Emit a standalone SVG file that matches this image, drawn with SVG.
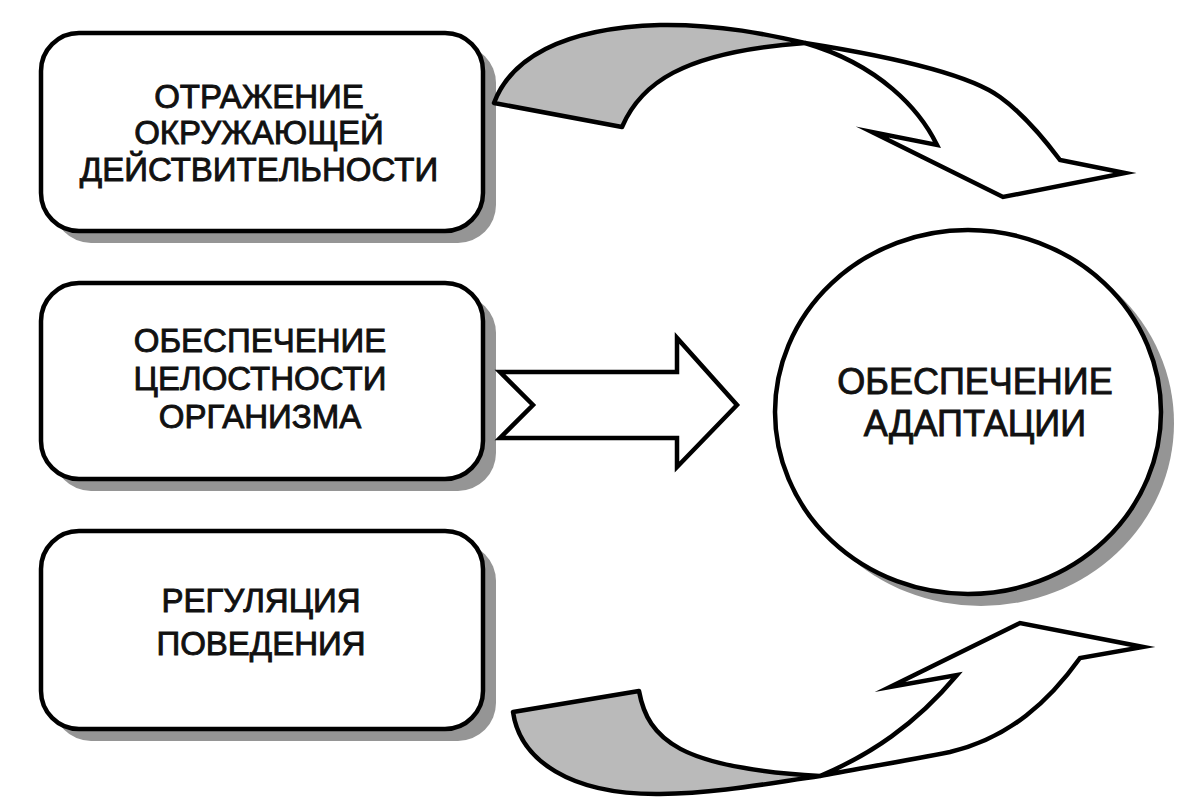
<svg xmlns="http://www.w3.org/2000/svg" width="1200" height="811" viewBox="0 0 1200 811">
<style>
.bg{fill:#ffffff}
.box{fill:#ffffff;stroke:#000;stroke-width:4.5}
.shadow{fill:#959595;stroke:none}
.lbl{font-family:"Liberation Sans",Arial,sans-serif;font-size:33px;fill:#111;stroke:#111;stroke-width:0.9;text-anchor:middle}
.shade{fill:#bababa;stroke:#000;stroke-width:4.5;stroke-linejoin:round}
.white{fill:#ffffff;stroke:#000;stroke-width:4.5;stroke-linejoin:miter;stroke-miterlimit:10}
</style>
<rect class="bg" x="0" y="0" width="1200" height="811"/>
<g id="node-reflection">
<rect class="shadow" x="53" y="45" width="443" height="198" rx="38"/>
<rect class="box" x="41" y="33" width="442" height="198" rx="38"/>
<text class="lbl" x="259" y="108">ОТРАЖЕНИЕ</text>
<text class="lbl" x="259" y="144">ОКРУЖАЮЩЕЙ</text>
<text class="lbl" x="259" y="181">ДЕЙСТВИТЕЛЬНОСТИ</text>
</g>
<g id="node-integrity">
<rect class="shadow" x="53" y="295" width="443" height="196" rx="38"/>
<rect class="box" x="41" y="283" width="442" height="196" rx="38"/>
<text class="lbl" x="260" y="352">ОБЕСПЕЧЕНИЕ</text>
<text class="lbl" x="260" y="390">ЦЕЛОСТНОСТИ</text>
<text class="lbl" x="260" y="428">ОРГАНИЗМА</text>
</g>
<g id="node-behavior">
<rect class="shadow" x="53" y="543" width="443" height="198" rx="38"/>
<rect class="box" x="41" y="531" width="442" height="198" rx="38"/>
<text class="lbl" x="261" y="612">РЕГУЛЯЦИЯ</text>
<text class="lbl" x="261" y="655">ПОВЕДЕНИЯ</text>
</g>
<g id="node-adaptation">
<ellipse class="shadow" cx="981" cy="423" rx="193" ry="183"/>
<ellipse class="box" cx="968" cy="412" rx="193" ry="182"/>
<text class="lbl" x="975" y="394" style="font-size:36px">ОБЕСПЕЧЕНИЕ</text>
<text class="lbl" x="975" y="436" style="font-size:36px">АДАПТАЦИИ</text>
</g>
<g id="connectors">
<g id="arrow-top">
<path class="shade" d="M494,103 L622,127 C640,85 680,52 805,43 C770,35 720,24 660,25 C560,28 510,60 494,103 Z"/>
<path class="white" d="M805,43 C900,58 970,75 1000,97 C1025,115 1045,140 1060,160 L1125,173 L1003,197 L872,132 L937,145 C920,110 880,65 805,43 Z"/>
</g>
<g id="arrow-middle">
<path class="white" d="M500,372 L677,372 L677,338 L737,405 L677,467 L677,438 L500,438 L533,405 Z"/>
</g>
<g id="arrow-bottom">
<path class="shade" d="M513,712 L639,691 C648,740 680,768 820,776 C770,783 720,793 660,794 C570,795 520,760 513,712 Z"/>
<path class="white" d="M820,776 C870,755 915,725 957,675 L890,687 L1020,623 L1143,647 L1080,658 C1050,700 1010,738 950,752 C900,762 850,770 820,776 Z"/>
</g>
</g>
</svg>
